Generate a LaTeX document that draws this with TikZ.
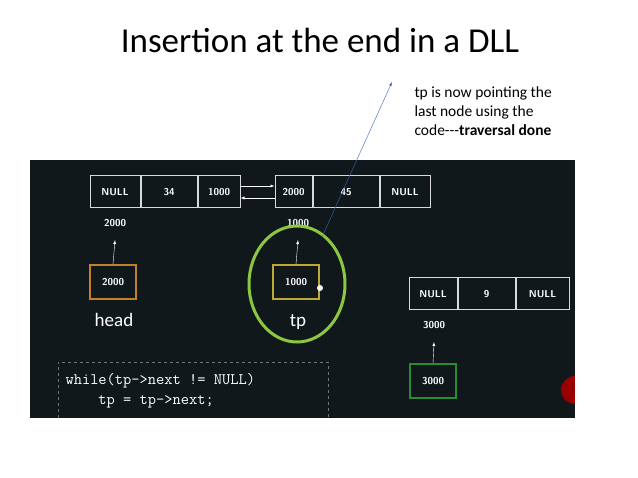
\documentclass[tikz,border=0pt]{standalone}
\usepackage{fontspec}
\setmainfont{Carlito}
\usetikzlibrary{positioning}
\definecolor{panel}{RGB}{16,24,28}
\definecolor{ringgreen}{RGB}{141,198,63}
\definecolor{headorange}{RGB}{196,128,40}
\definecolor{tpyellow}{RGB}{190,170,50}
\definecolor{tempgreen}{RGB}{40,140,50}
\definecolor{linkblue}{RGB}{60,100,180}
\tikzset{
  cell/.style={draw=white!85!black, line width=1pt, minimum height=32, inner sep=0, text=white, font=\sffamily\bfseries},
  ptr/.style={draw=#1, line width=1.5pt, minimum width=46, minimum height=34, inner sep=0, text=white, font=\sffamily\bfseries},
  addr/.style={text=white, font=\sffamily\bfseries},
  varname/.style={text=white, font=\fontsize{19}{22}\selectfont}
}
\begin{document}
\begin{tikzpicture}[x=1pt,y=1pt,yscale=-1]
\useasboundingbox (0,0) rectangle (638,478);
\fill[white] (0,0) rectangle (638,478);
\fill[panel] (30,160) rectangle (575,418);
\fill[red!60!black] (575,390) circle (14);
\fill[white] (0,0) rectangle (30,478);
\fill[white] (575,160) rectangle (638,478);
\node[font=\fontsize{35}{40}\selectfont] (title) at (320,40) {Insertion at the end in a DLL};
\node[align=left, anchor=north west, font=\fontsize{15.5}{19}\selectfont] (note) at (411,83) {tp is now pointing the\\last node using the\\code{-}{-}{-}\textbf{traversal done}};
% first node
\node[cell, minimum width=50] (aprev) at (115,192) {NULL};
\node[cell, minimum width=56, right=0 of aprev] (adata) {34};
\node[cell, minimum width=42, right=0 of adata] (anext) {1000};
% second node
\node[cell, minimum width=37] (bprev) at (293.5,192) {2000};
\node[cell, minimum width=66, right=0 of bprev] (bdata) {45};
\node[cell, minimum width=50, right=0 of bdata] (bnext) {NULL};
\draw[white, ->, >=latex] ([yshift=-6]anext.east) -- ([yshift=-6]bprev.west);
\draw[white, <-, >=latex] ([yshift=6]anext.east) -- ([yshift=6]bprev.west);
\node[addr] (aaddr) at (115,223) {2000};
\node[addr] (baddr) at (298,223) {1000};
% pointers
\node[ptr=headorange] (head) at (113,282) {2000};
\node[varname] (headname) at (114,320) {head};
\node[ptr=tpyellow] (tp) at (296,282) {1000};
\node[varname] (tpname) at (298,322) {tp};
\draw[white, ->, >=latex] (head.north) -- (115,240);
\draw[white, ->, >=latex] (tp.north) -- (298,240);
\draw[ringgreen, line width=3pt] (297,284) ellipse (48 and 58);
\fill[white] (320,288) circle (3);
% new node
\node[cell, minimum width=48] (cprev) at (433,294) {NULL};
\node[cell, minimum width=57, right=0 of cprev] (cdata) {9};
\node[cell, minimum width=53, right=0 of cdata] (cnext) {NULL};
\node[addr] (caddr) at (434,325) {3000};
\node[ptr=tempgreen] (temp) at (433,381) {3000};
\draw[white, ->, >=latex] (temp.north) -- (434,342);
% code
\draw[white!40!panel, dashed] (58,418) -- (58,362) -- (328,362) -- (328,418);
\node[anchor=west, align=left, text=white, font=\ttfamily\fontsize{16}{20}\selectfont] (code) at (62,391) {while(tp->next != NULL)\\\ \ \ \ tp = tp->next;};
% annotation link
\coordinate (tip) at (392,82);
\draw[linkblue, ->, >=latex] (322,237) -- (tip);
\end{tikzpicture}
\end{document}
